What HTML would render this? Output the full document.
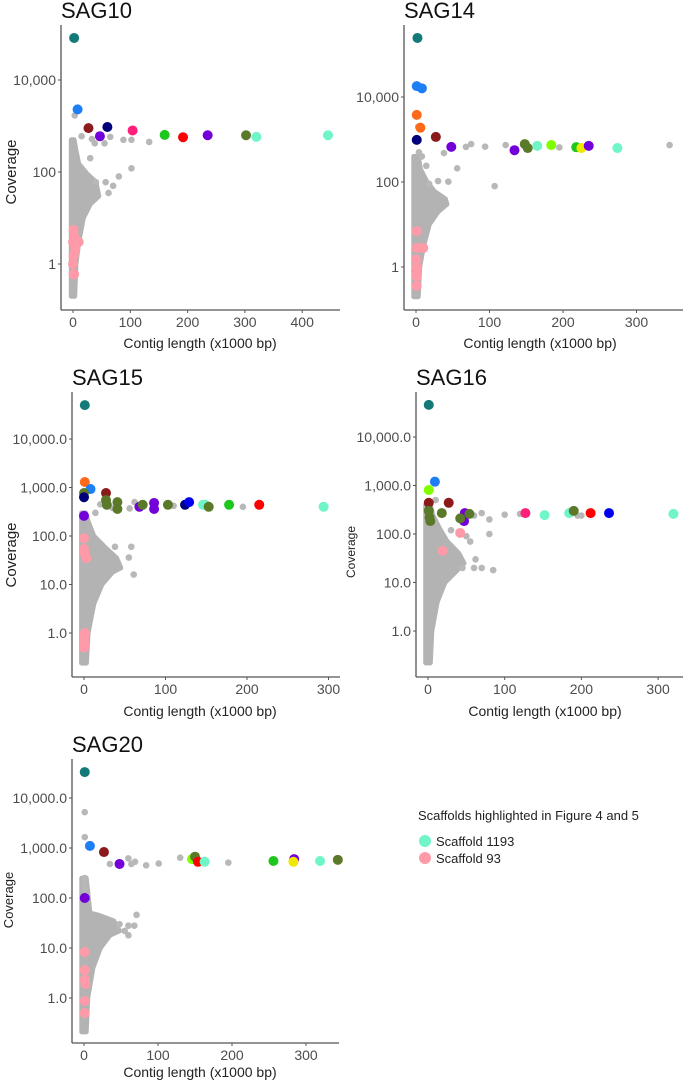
<!DOCTYPE html>
<html><head><meta charset="utf-8">
<style>
html,body{margin:0;padding:0;background:#fff;}
svg{display:block;font-family:"Liberation Sans",sans-serif;}
</style></head>
<body>
<svg id="fig" width="685" height="1082" viewBox="0 0 685 1082"></svg>
<script>
// ---------- DATA ----------
const s10HlLen=[2,8,27,60,47,104,160,192,235,302,320,445,1,2,0,3,10,1,0,1,2,4];
const s10HlCov=[82000,2300,900,950,600,800,640,570,630,630,580,630,5.5,4,3,2.5,3,1.5,1,0.6,0.6,2];
const s10HlCol=["#137a77","#1e7ef5","#8b1a1a","#00007a","#7300d9","#ff1f7a","#1ec71e","#ff0000","#7300d9","#5a7a2a","#6ff5c8","#6ff5c8","#ff9aa8","#ff9aa8","#ff9aa8","#ff9aa8","#ff9aa8","#ff9aa8","#ff9aa8","#ff9aa8","#ff9aa8","#ff9aa8"];
const s10GrLen=[30,38,55,65,88,102,133,80,102,70,57,40,15,3,33,62];
const s10GrCov=[200,420,420,580,500,500,450,80,120,50,60,60,600,1700,520,35];
const s10CloudLen=[-3,3,5,10,18,30,45,40,25,10,5,2,-3];
const s10CloudCov=[0.2,0.2,1,3,10,20,30,60,90,150,300,500,500];

const s14HlLen=[2,1,8,1,6,1,27,48,134,148,152,165,184,218,225,235,274,1,1,10,0,1,0,1,1];
const s14HlCov=[245000,18000,16000,3800,1900,980,1150,670,560,780,630,710,740,660,630,710,630,7,2.8,2.8,1.5,1,0.8,0.6,0.36];
const s14HlCol=["#137a77","#1e7ef5","#1e7ef5","#ff6a1a","#ff6a1a","#00007a","#8b1a1a","#7300d9","#7300d9","#5a7a2a","#5a7a2a","#6ff5c8","#7fff00","#1ec71e","#f0e800","#7300d9","#6ff5c8","#ff9aa8","#ff9aa8","#ff9aa8","#ff9aa8","#ff9aa8","#ff9aa8","#ff9aa8","#ff9aa8"];
const s14GrLen=[345,195,122,94,75,68,38,56,30,44,107,18,14,3,4,8];
const s14GrCov=[740,650,740,680,780,670,480,210,105,102,80,90,240,2000,500,400];
const s14CloudLen=[-3,3,5,10,18,30,42,40,25,15,6,3,-3];
const s14CloudCov=[0.2,0.2,1,3,10,20,30,40,60,100,200,400,400];

const s15HlLen=[1,1,8,0,0,27,27,28,41,41,0,68,72,86,86,103,124,129,146,149,153,178,215,294,0,0,1,3,1,0,1,0];
const s15HlCov=[50000,1300,930,770,630,770,550,440,500,360,260,400,440,480,360,440,440,500,440,440,400,440,440,400,90,54,43,35,1,0.8,0.6,0.5];
const s15HlCol=["#137a77","#ff6a1a","#1e7ef5","#5a7a2a","#00007a","#8b1a1a","#5a7a2a","#5a7a2a","#5a7a2a","#5a7a2a","#7300d9","#7300d9","#5a7a2a","#7300d9","#7300d9","#5a7a2a","#00007a","#0000ee","#6ff5c8","#6ff5c8","#5a7a2a","#1ec71e","#ff0000","#6ff5c8","#ff9aa8","#ff9aa8","#ff9aa8","#ff9aa8","#ff9aa8","#ff9aa8","#ff9aa8","#ff9aa8"];
const s15GrLen=[20,35,56,62,110,195,14,58,61,38,55];
const s15GrCov=[450,380,370,500,420,400,300,60,16,60,36];
const s15CloudLen=[-3,3,5,12,22,35,45,40,25,12,5,2,-3];
const s15CloudCov=[0.24,0.24,1,4,10,18,22,35,60,100,200,300,300];

const s16HlLen=[1,9,1,1,27,1,2,3,18,48,47,42,54,42,19,127,152,184,190,212,236,320];
const s16HlCov=[46000,1200,810,440,440,300,220,185,270,270,185,210,260,105,45,270,245,270,300,270,270,260];
const s16HlCol=["#137a77","#1e7ef5","#7fff00","#8b1a1a","#8b1a1a","#5a7a2a","#5a7a2a","#5a7a2a","#5a7a2a","#7300d9","#7300d9","#5a7a2a","#5a7a2a","#ff9aa8","#ff9aa8","#ff1f7a","#6ff5c8","#6ff5c8","#5a7a2a","#ff0000","#0000ee","#6ff5c8"];
const s16GrLen=[100,80,60,70,195,200,120,30,40,50,55,80,85,70,60,62,10,45];
const s16GrCov=[250,200,240,270,240,240,260,120,110,90,70,100,18,20,20,30,500,20];
const s16CloudLen=[-3,3,5,12,22,35,47,40,25,15,6,3,-3];
const s16CloudCov=[0.22,0.22,1,4,10,16,25,40,70,130,250,400,400];

const s20HlLen=[1,8,27,48,146,150,154,163,256,284,283,319,343,1,1,1,1,2,1,1];
const s20HlCov=[33000,1100,830,480,600,670,530,530,550,600,530,550,580,100,8.3,3.6,2.3,1.9,0.87,0.5];
const s20HlCol=["#137a77","#1e7ef5","#8b1a1a","#7300d9","#7fff00","#5a7a2a","#ff0000","#6ff5c8","#1ec71e","#7300d9","#f0e800","#6ff5c8","#5a7a2a","#7300d9","#ff9aa8","#ff9aa8","#ff9aa8","#ff9aa8","#ff9aa8","#ff9aa8"];
const s20GrLen=[1,1,35,60,64,69,84,101,130,195,1,1,1,71,68,60,60,55,48];
const s20GrCov=[5200,1650,480,620,480,530,450,490,640,510,250,200,150,46,28,28,18,22,30];
const s20CloudLen=[-3,3,5,12,22,35,48,40,20,8,3,-3];
const s20CloudCov=[0.21,0.21,1,4,10,18,22,35,45,50,250,250];

const yTicks10=[1,100,10000];const yLab10=["1","100","10,000"];
const yTicksDec=[1,10,100,1000,10000];const yLabDec=["1.0","10.0","100.0","1,000.0","10,000.0"];
const xTicks4=[0,100,200,300,400];const xTicks3=[0,100,200,300];

// ---------- DRAW ----------
const NS="http://www.w3.org/2000/svg";
const svg=document.getElementById('fig');
function mk(tag,attrs,parent){const e=document.createElementNS(NS,tag);for(const k in attrs)e.setAttribute(k,attrs[k]);(parent||svg).appendChild(e);return e;}

function panel(p){
  const g=mk('g',{});
  
  
  const sx=v=>p.x0+v*p.xs;
  const sy=v=>p.y1-p.ys*Math.log10(v);
  // cloud
  let pts=p.cLen.map((l,i)=>sx(l).toFixed(1)+','+sy(p.cCov[i]).toFixed(1)).join(' ');
  const cl=mk('polygon',{points:pts,fill:'#b3b3b3','stroke':'#b3b3b3','stroke-width':5,'stroke-linejoin':'round'},g);
  
  
  p.gLen.forEach((l,i)=>{
    const c=mk('circle',{cx:sx(l),cy:sy(p.gCov[i]),r:3.3,fill:'#b8b8b8'},g);
    
    
  });
  p.hLen.forEach((l,i)=>{
    const c=mk('circle',{cx:sx(l),cy:sy(p.hCov[i]),r:5,fill:p.hCol[i]},g);
    
    
  });
  // axes
  const ya=mk('line',{x1:p.ax,y1:p.top,x2:p.ax,y2:p.ay,stroke:'#555','stroke-width':1.3},g);
  
  
  const xa=mk('line',{x1:p.ax,y1:p.ay,x2:p.right,y2:p.ay,stroke:'#555','stroke-width':1.3},g);
  
  
  p.yT.forEach((v,i)=>{
    const y=sy(v);
    mk('line',{x1:p.ax-3,y1:y,x2:p.ax,y2:y,stroke:'#555'},g);
    const t=mk('text',{x:p.ax-5,y:y+5,'text-anchor':'end','font-size':14,fill:'#4d4d4d'},g);
    t.textContent=p.yL[i];
    
    
  });
  p.xT.forEach(v=>{
    const x=sx(v);
    mk('line',{x1:x,y1:p.ay,x2:x,y2:p.ay+3,stroke:'#555'},g);
    const t=mk('text',{x:x,y:p.ay+17,'text-anchor':'middle','font-size':14,fill:'#4d4d4d'},g);
    t.textContent=String(v);
    
    
  });
  const ti=mk('text',{x:p.ax,y:p.titleY,'font-size':22,fill:'#111'},g);
  ti.textContent=p.name;
  
  
  if(p.xlab){
    const xl=mk('text',{x:p.xlabX,y:p.xlabY,'text-anchor':'middle','font-size':14,fill:'#222'},g);
    xl.textContent='Contig length (x1000 bp)';
    
    
  }
  if(p.ylabX){
    const yl=mk('text',{x:p.ylabX,y:p.ylabY,'text-anchor':'middle','font-size':p.ylabFs,fill:'#222',transform:'rotate(-90 '+p.ylabX+' '+p.ylabY+')'},g);
    yl.textContent='Coverage';
    
    
  }
}

panel({name:'SAG10',x0:73,xs:0.573,y1:264,ys:46,ax:61,ay:310,top:25,right:340,titleY:18,
  hLen:s10HlLen,hCov:s10HlCov,hCol:s10HlCol,gLen:s10GrLen,gCov:s10GrCov,cLen:s10CloudLen,cCov:s10CloudCov,
  yT:yTicks10,yL:yLab10,xT:xTicks4,xlab:1,xlabX:200,xlabY:348,ylabX:16,ylabY:172,ylabFs:15});
panel({name:'SAG14',x0:416,xs:0.735,y1:267,ys:42.5,ax:404,ay:310,top:25,right:683,titleY:18,
  hLen:s14HlLen,hCov:s14HlCov,hCol:s14HlCol,gLen:s14GrLen,gCov:s14GrCov,cLen:s14CloudLen,cCov:s14CloudCov,
  yT:yTicks10,yL:yLab10,xT:xTicks3,xlab:1,xlabX:540,xlabY:348});
panel({name:'SAG15',x0:84,xs:0.815,y1:633,ys:48.5,ax:72,ay:677,top:392,right:340,titleY:385,
  hLen:s15HlLen,hCov:s15HlCov,hCol:s15HlCol,gLen:s15GrLen,gCov:s15GrCov,cLen:s15CloudLen,cCov:s15CloudCov,
  yT:yTicksDec,yL:yLabDec,xT:xTicks3,xlab:1,xlabX:200,xlabY:716,ylabX:16,ylabY:555,ylabFs:15});
panel({name:'SAG16',x0:428,xs:0.767,y1:631,ys:48.5,ax:416,ay:677,top:392,right:683,titleY:385,
  hLen:s16HlLen,hCov:s16HlCov,hCol:s16HlCol,gLen:s16GrLen,gCov:s16GrCov,cLen:s16CloudLen,cCov:s16CloudCov,
  yT:yTicksDec,yL:yLabDec,xT:xTicks3,xlab:1,xlabX:545,xlabY:716,ylabX:355,ylabY:552,ylabFs:12});
panel({name:'SAG20',x0:84,xs:0.74,y1:998,ys:50,ax:72,ay:1043,top:759,right:339,titleY:752,
  hLen:s20HlLen,hCov:s20HlCov,hCol:s20HlCol,gLen:s20GrLen,gCov:s20GrCov,cLen:s20CloudLen,cCov:s20CloudCov,
  yT:yTicksDec,yL:yLabDec,xT:xTicks3,xlab:1,xlabX:200,xlabY:1077,ylabX:13,ylabY:900,ylabFs:13});

// legend
const lg=mk('g',{});


const lt=mk('text',{x:418,y:820,'font-size':13,fill:'#222'},lg);
lt.textContent='Scaffolds highlighted in Figure 4 and 5';


const legNames=['Scaffold 1193','Scaffold 93'];
const legCols=['#6ff5c8','#ff9aa8'];
legNames.forEach((n,i)=>{
  const e=mk('g',{},lg);
  
  
  mk('circle',{cx:425,cy:841+i*17,r:6,fill:legCols[i]},e);
  const t=mk('text',{x:436,y:846+i*17,'font-size':13,fill:'#222'},e);
  t.textContent=n;
});
</script>
</body></html>
